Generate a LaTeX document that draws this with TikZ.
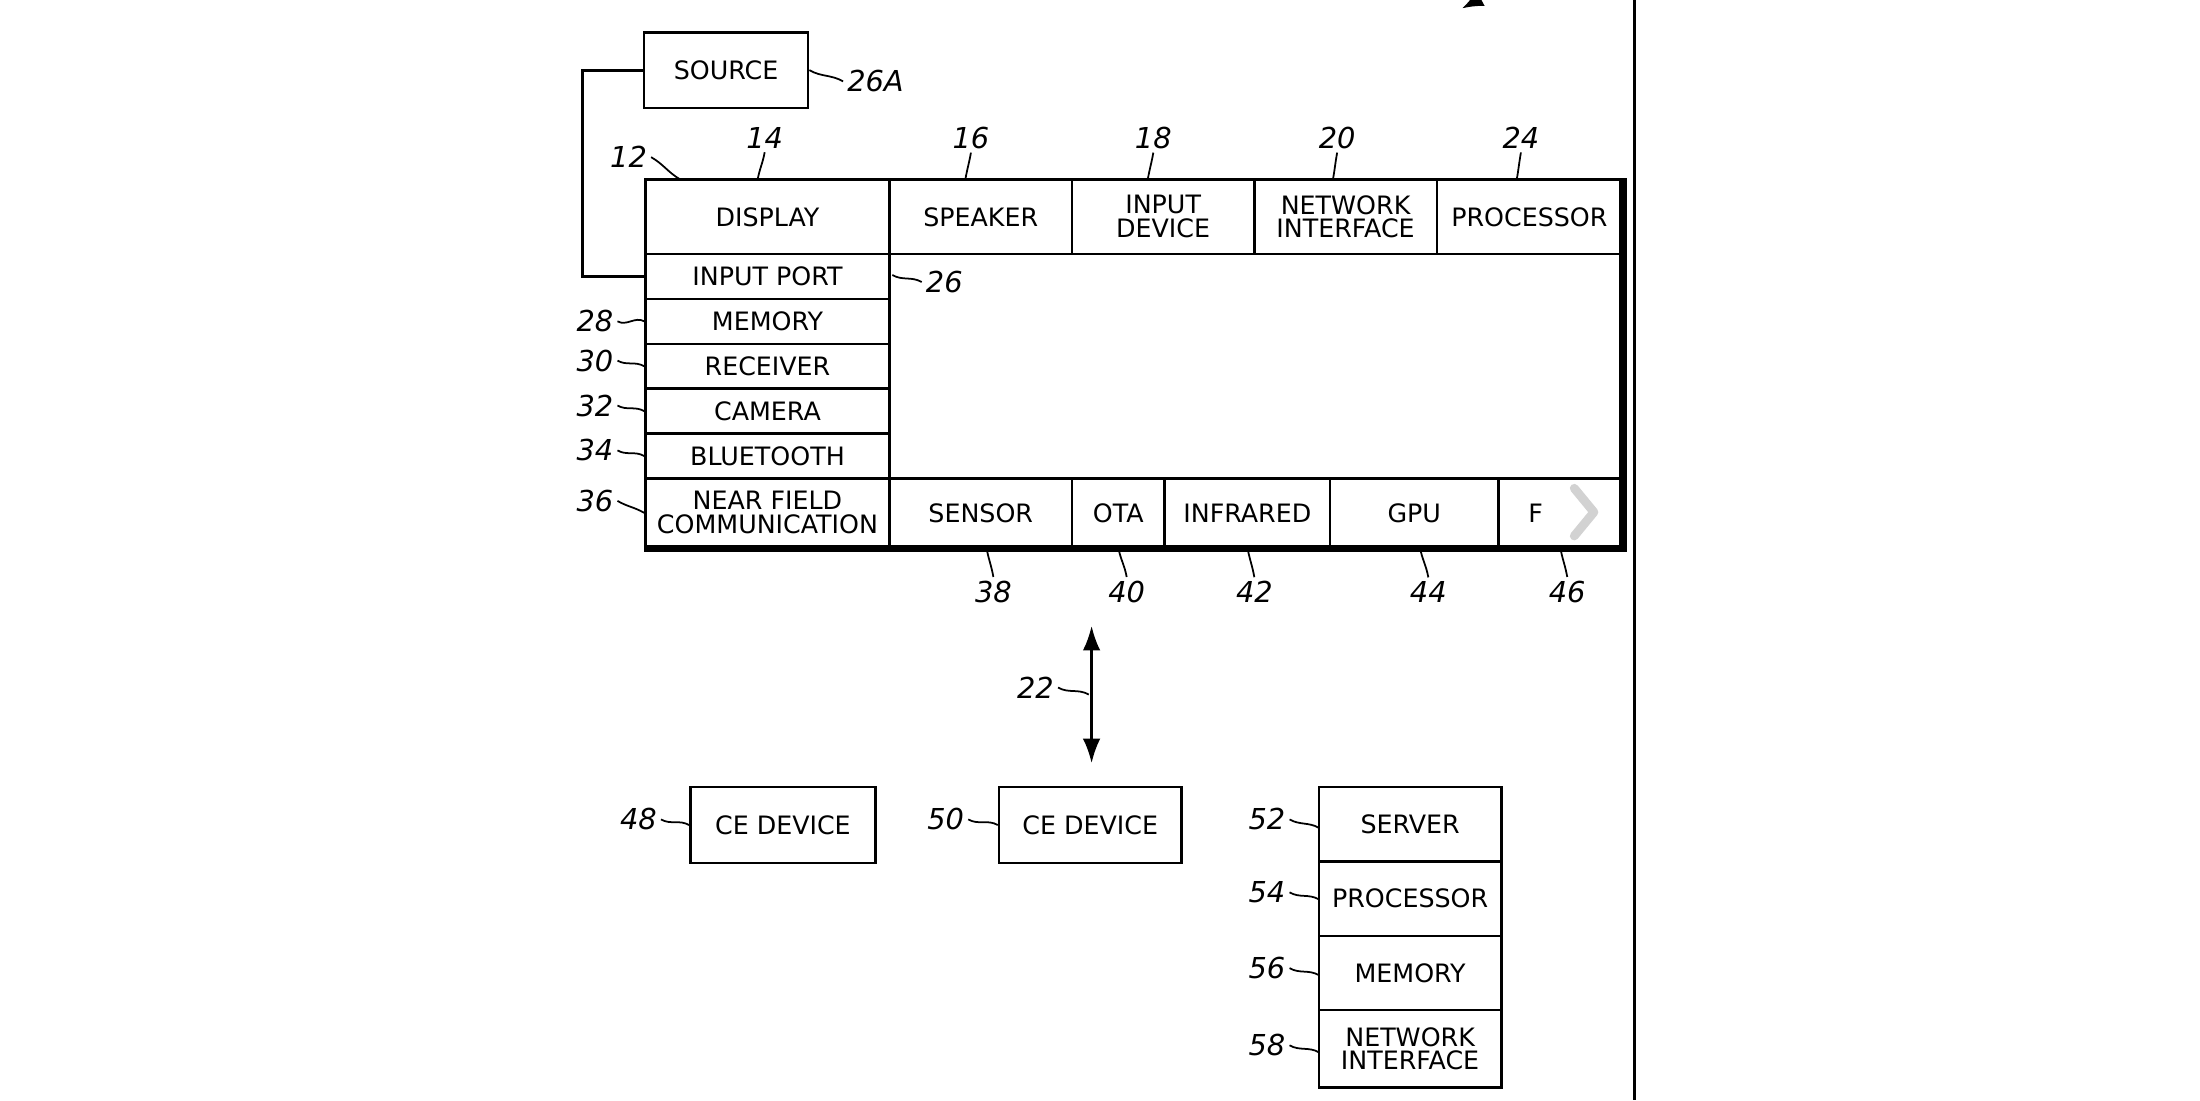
\documentclass[tikz,border=0pt]{standalone}
\usepackage{fontspec}
\setmainfont{DejaVu Sans}
\usetikzlibrary{arrows.meta,fit,positioning}
\newcommand{\blk}[6]{\node[box, fit={(#2,#3)(#4,#5)}, label={[align=center, font=\fontsize{7.2}{7.8}\selectfont]center:#6}] (#1) {};}
\tikzset{
  box/.style={draw, line width=0.7pt, inner sep=0pt},
  num/.style={font=\fontsize{8.2}{9}\selectfont\itshape, inner sep=1pt},
  lead/.style={line width=0.5pt}
}
\begin{document}
\begin{tikzpicture}[x=0.01403cm, y=-0.01403cm]
\useasboundingbox (0,0) rectangle (1568,784);

\draw[line width=0.8pt] (1165,0) -- (1165,784);
\coordinate (tipA) at (1068,-8);
\coordinate (tipB) at (1042,6);
\draw[-{Latex[length=6pt,width=5pt]}, line width=0.8pt] (tipA) -- (tipB);

% source and main unit
\blk{Source}{459}{23}{576}{77}{SOURCE}
\blk{Display}{460}{128}{634}{181}{DISPLAY}
\blk{Speaker}{634}{128}{764}{181}{SPEAKER}
\blk{InDev}{764}{128}{894}{181}{INPUT\\[-1pt]DEVICE}
\blk{NetIf}{894}{128}{1024}{181}{NETWORK\\[-1pt]INTERFACE}
\blk{Proc}{1024}{128}{1156}{181}{PROCESSOR}
\blk{InPort}{460}{181}{634}{213}{INPUT PORT}
\blk{Memory}{460}{213}{634}{245}{MEMORY}
\blk{Receiver}{460}{245}{634}{277}{RECEIVER}
\blk{Camera}{460}{277}{634}{309}{CAMERA}
\blk{Bluetooth}{460}{309}{634}{341}{BLUETOOTH}
\blk{NFC}{460}{341}{634}{390}{NEAR FIELD\\[-1pt]COMMUNICATION}
\blk{Sensor}{634}{341}{764}{390}{SENSOR}
\blk{OTA}{764}{341}{830}{390}{OTA}
\blk{Infrared}{830}{341}{948}{390}{INFRARED}
\blk{GPU}{948}{341}{1068}{390}{GPU}
\blk{Fx}{1068}{341}{1156}{390}{F\hspace{14pt}}
\node[box, fit={(460,128)(1156,390)}] (Unit) {};
\draw[line width=2.2pt] (Unit.south west) -- (Unit.south east) -- (Unit.north east);
\draw[gray!35, line width=2.5pt, line cap=round, line join=round] (1122,348) -- (1136,365) -- (1122,382);

\draw[line width=0.8pt] (Source.west) -- ++(-43,0) |- (InPort.west);

% remote devices
\blk{CEa}{492}{561}{624}{615}{CE DEVICE}
\blk{CEb}{712}{561}{842}{615}{CE DEVICE}
\blk{Server}{940}{561}{1070}{614}{SERVER}
\blk{SProc}{940}{614}{1070}{667}{PROCESSOR}
\blk{SMem}{940}{667}{1070}{720}{MEMORY}
\blk{SNet}{940}{720}{1070}{775}{NETWORK\\[-1pt]INTERFACE}

\coordinate (linkTop) at (778,446);
\coordinate (linkBot) at (778,544);
\draw[{Latex[length=7pt,width=5pt]}-{Latex[length=7pt,width=5pt]}, line width=0.8pt] (linkTop) -- (linkBot);

% reference numerals
\node[num] (n26A) at (624,58) {26A};
\node[num] (n12) at (448,112) {12};
\node[num] (n14) at (545,98) {14};
\node[num] (n16) at (692,98) {16};
\node[num] (n18) at (822,98) {18};
\node[num] (n20) at (953,98) {20};
\node[num] (n24) at (1084,98) {24};
\node[num] (n26) at (673,201) {26};
\node[num] (n28) at (424,229) {28};
\node[num] (n30) at (424,257) {30};
\node[num] (n32) at (424,289) {32};
\node[num] (n34) at (424,321) {34};
\node[num] (n36) at (424,357) {36};
\node[num] (n38) at (708,422) {38};
\node[num] (n40) at (803,422) {40};
\node[num] (n42) at (894,422) {42};
\node[num] (n44) at (1018,422) {44};
\node[num] (n46) at (1117,422) {46};
\node[num] (n22) at (738,490) {22};
\node[num] (n48) at (455,584) {48};
\node[num] (n50) at (674,584) {50};
\node[num] (n52) at (903,584) {52};
\node[num] (n54) at (903,636) {54};
\node[num] (n56) at (903,690) {56};
\node[num] (n58) at (903,745) {58};

\draw[lead] (n26A.west) to[out=150,in=-30] (Source.east);
\draw[lead] (n12.east) to[out=-30,in=150] (485,128);
\draw[lead] (n14.south) to[out=-100,in=80] (540,128);
\draw[lead] (n16.south) to[out=-100,in=80] (688,128);
\draw[lead] (n18.south) to[out=-100,in=80] (818,128);
\draw[lead] (n20.south) to[out=-100,in=80] (950,128);
\draw[lead] (n24.south) to[out=-100,in=80] (1081,128);
\draw[lead] (n26.west) to[out=150,in=-30] (636,196);
\foreach \n/\b in {28/Memory,30/Receiver,32/Camera,34/Bluetooth,36/NFC}
  \draw[lead] (n\n.east) to[out=-30,in=150] (\b.west);
\draw[lead] (n38.north) to[out=100,in=-80] (703,390);
\draw[lead] (n40.north) to[out=100,in=-80] (797,390);
\draw[lead] (n42.north) to[out=100,in=-80] (889,390);
\draw[lead] (n44.north) to[out=100,in=-80] (1012,390);
\draw[lead] (n46.north) to[out=100,in=-80] (1112,390);
\draw[lead] (n22.east) to[out=-30,in=150] (776,495);
\draw[lead] (n48.east) to[out=-30,in=150] (CEa.west);
\draw[lead] (n50.east) to[out=-30,in=150] (CEb.west);
\draw[lead] (n52.east) to[out=-30,in=150] (940,590);
\draw[lead] (n54.east) to[out=-30,in=150] (940,641);
\draw[lead] (n56.east) to[out=-30,in=150] (940,695);
\draw[lead] (n58.east) to[out=-30,in=150] (940,750);
\end{tikzpicture}
\end{document}
